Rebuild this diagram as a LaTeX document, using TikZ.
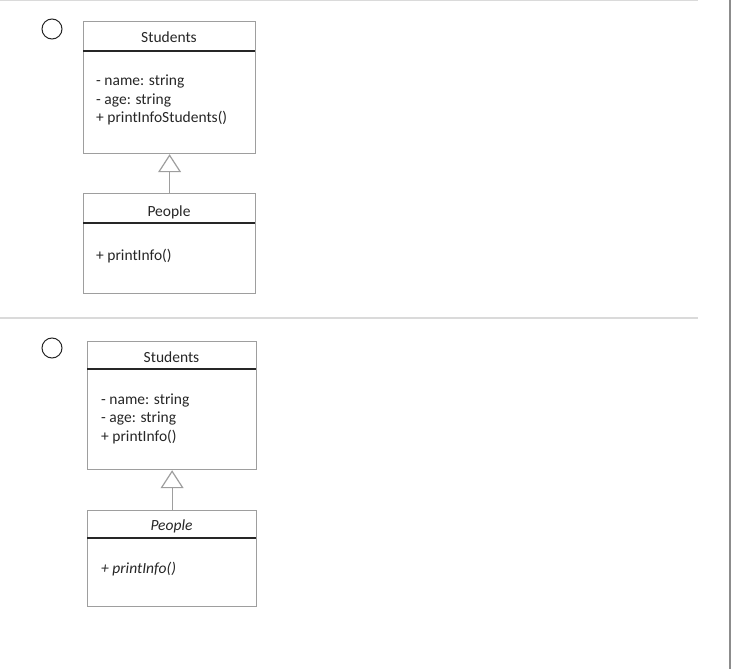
\documentclass[tikz,border=0pt]{standalone}
\usepackage{fontspec}
\setmainfont{Carlito}
\usetikzlibrary{arrows.meta}
\definecolor{boxgray}{HTML}{9E9E9E}
\definecolor{txtgray}{HTML}{262626}
\definecolor{rulegray}{HTML}{DADADA}
\definecolor{edgegray}{HTML}{8C8C8C}

\begin{document}
\begin{tikzpicture}[x=1pt,y=-1pt,
  umlbox/.style={draw=boxgray,line width=1.2pt,anchor=north west,inner sep=0pt},
  umltext/.style={inner sep=0pt,text=txtgray,font=\fontsize{15.5}{18}\selectfont},
  headline/.style={draw=txtgray,line width=2pt},
  radio/.style={draw=txtgray,line width=1pt,circle,minimum size=20pt,inner sep=0pt},
  inherit/.style={draw=boxgray,line width=1.2pt,-{Triangle[open,length=18pt,width=23pt,fill=white]}}]
\useasboundingbox (0,0) rectangle (732,669);
\draw[rulegray,line width=1.5pt] (0,0.75) -- (698,0.75); \draw[rulegray,line width=1.2pt] (0,318) -- (698,318);
\draw[edgegray,line width=2pt] (730,0) -- (730,669);

% first choice
\node[radio] (radioA) at (52,29) {};
\node[umlbox,minimum width=172pt,minimum height=132pt] (studentsA) at (83,21) {};
\node[umlbox,minimum width=172pt,minimum height=100pt] (peopleA) at (83,193) {};
\draw[headline] (83,51) -- (255,51); \draw[headline] (83,223) -- (255,223);
\node[umltext,anchor=base] (studentsAname) at (169,43) {Students};
\node[umltext,anchor=base west] (studentsAattr1) at (96,86) {- name: string};
\node[umltext,anchor=base west] (studentsAattr2) at (96,105) {- age: string};
\node[umltext,anchor=base west] (studentsAop) at (96,123) {+ printInfoStudents()};
\node[umltext,anchor=base] (peopleAname) at (169,216) {People};
\node[umltext,anchor=base west] (peopleAop) at (96,260) {+ printInfo()};
\draw[inherit] (peopleA.north) -- (studentsA.south);

% second choice
\node[radio] (radioB) at (52,348) {};
\node[umlbox,minimum width=169pt,minimum height=128pt] (studentsB) at (87,341) {};
\node[umlbox,minimum width=169pt,minimum height=96pt] (peopleB) at (87,510) {};
\draw[headline] (87,369) -- (256,369); \draw[headline] (87,538) -- (256,538);
\node[umltext,anchor=base] (studentsBname) at (171.5,362) {Students};
\node[umltext,anchor=base west] (studentsBattr1) at (101,404) {- name: string};
\node[umltext,anchor=base west] (studentsBattr2) at (101,422) {- age: string};
\node[umltext,anchor=base west] (studentsBop) at (101,441) {+ printInfo()};
\node[umltext,anchor=base] (peopleBname) at (171.5,530) {\itshape People};
\node[umltext,anchor=base west] (peopleBop) at (101,573) {\itshape + printInfo()};
\draw[inherit] (peopleB.north) -- (studentsB.south);
\end{tikzpicture}
\end{document}
